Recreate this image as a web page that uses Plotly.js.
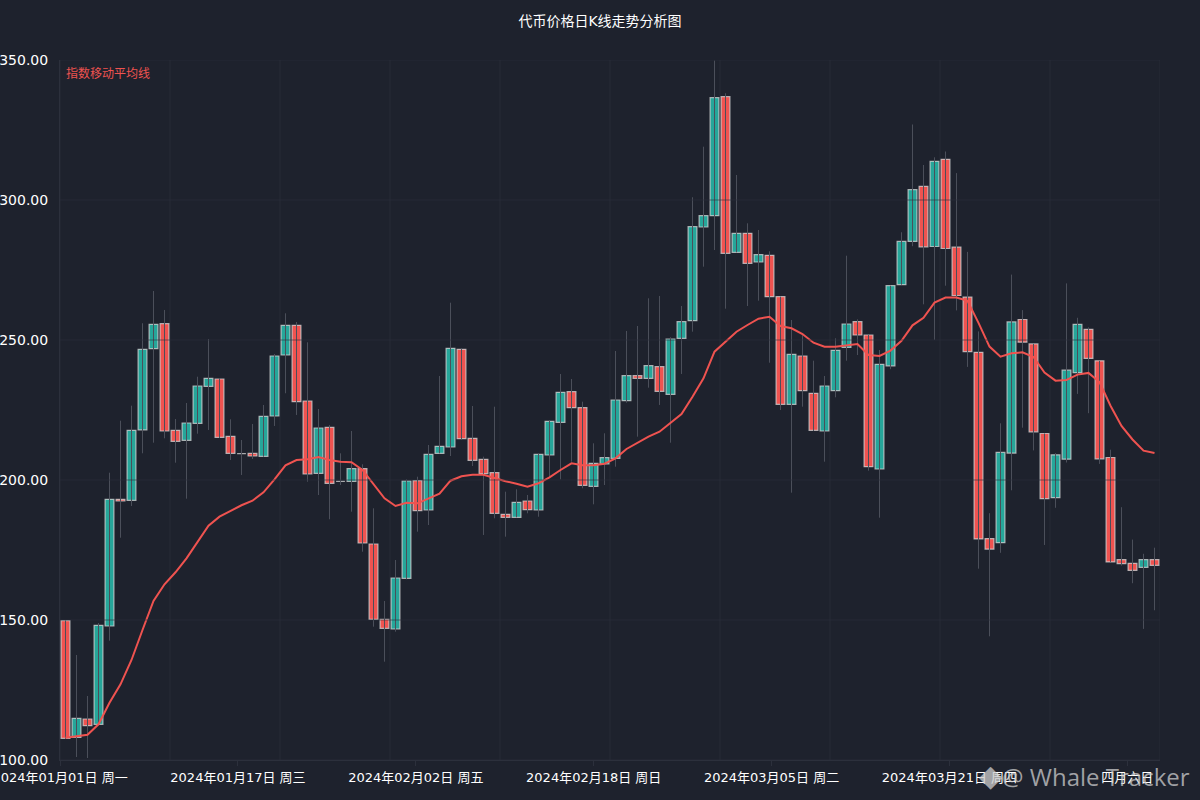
<!DOCTYPE html>
<html>
<head>
<meta charset="utf-8">
<script src="https://cdn.plot.ly/plotly-3.0.1.min.js"></script>
<style>
  html, body { margin: 0; padding: 0; background: #1e222d; }
  #chart { width: 1200px; height: 800px; }
</style>
</head>
<body>
<div id="chart"></div>
<script>
// chart text
const titleText = '代币价格日K线走势分析图';
const maName = '指数移动平均线';
const watermark = '<span style="font-size:30px">◆</span>@ Whale Tracker';
const xLabels = ['2024年01月01日 周一', '2024年01月17日 周三', '2024年02月02日 周五', '2024年02月18日 周日',
                 '2024年03月05日 周二', '2024年03月21日 周四', '四月六日'];

// daily candles
const open = [
  149.75, 108.11, 114.64, 112.75, 147.86, 193.11, 192.75, 217.90, 246.89, 255.82,
  217.75, 214.18, 220.25, 233.46, 236.07, 215.61, 209.39, 209.54, 208.46, 222.86,
  244.64, 255.25, 228.22, 202.39, 218.82, 199.54, 199.54, 204.04, 177.14, 150.25,
  146.79, 164.89, 199.75, 189.29, 209.54, 211.79, 246.68, 214.89, 207.39, 202.61,
  187.75, 186.68, 192.50, 189.29, 208.93, 220.61, 231.54, 225.82, 197.75, 205.72,
  207.75, 228.32, 237.25, 236.32, 240.46, 230.61, 250.61, 256.89, 290.36, 294.39,
  336.89, 281.32, 288.11, 277.86, 280.25, 265.47, 227.04, 244.29, 230.97, 217.50,
  231.89, 247.39, 256.54, 251.79, 203.93, 240.79, 269.75, 285.22, 304.89, 283.39,
  314.54, 283.14, 265.29, 245.61, 179.07, 177.61, 209.61, 257.32, 248.61, 216.61,
  193.68, 207.43, 238.36, 253.82, 242.57, 208.04, 171.57, 170.25, 168.82, 171.57
];
const high = [
  149.82, 137.50, 122.86, 148.93, 202.61, 221.18, 226.54, 255.97, 267.50, 260.72,
  221.79, 227.50, 236.89, 250.36, 236.43, 221.68, 214.29, 220.00, 226.79, 245.00,
  259.54, 256.43, 249.18, 225.36, 219.64, 209.54, 217.50, 205.61, 189.89, 156.79,
  171.43, 200.25, 201.18, 212.50, 237.14, 263.32, 247.14, 226.43, 208.32, 226.18,
  195.82, 196.68, 194.64, 209.54, 221.43, 237.86, 236.07, 227.97, 213.11, 216.68,
  246.07, 253.22, 255.00, 264.89, 265.72, 250.97, 262.14, 300.97, 319.04, 349.80,
  338.11, 308.93, 291.68, 289.29, 281.68, 265.47, 257.14, 251.79, 242.61, 237.14,
  250.61, 280.11, 257.39, 251.79, 246.43, 269.39, 288.47, 326.97, 312.50, 315.25,
  317.32, 309.61, 281.47, 253.07, 188.14, 220.25, 273.36, 260.68, 248.61, 216.61,
  209.61, 270.22, 257.93, 254.54, 242.57, 210.82, 190.29, 178.72, 173.64, 175.82
];
const low = [
  107.50, 101.07, 100.71, 112.50, 142.61, 179.39, 190.72, 209.54, 213.32, 214.89,
  206.18, 193.32, 216.54, 217.86, 215.00, 207.14, 201.79, 207.50, 208.32, 219.29,
  230.97, 223.22, 199.39, 194.64, 185.97, 198.21, 188.68, 174.39, 147.61, 135.11,
  145.82, 164.54, 181.54, 183.93, 209.54, 208.57, 214.29, 205.00, 180.36, 186.32,
  179.75, 186.68, 188.11, 186.89, 201.18, 200.25, 206.54, 197.04, 191.32, 198.21,
  204.75, 227.61, 215.47, 232.97, 226.79, 213.32, 237.86, 252.97, 276.18, 282.14,
  261.18, 281.32, 262.14, 264.04, 241.89, 225.00, 195.47, 226.18, 217.50, 206.54,
  229.54, 242.61, 244.64, 203.32, 186.54, 239.57, 269.75, 283.50, 262.75, 250.07,
  269.39, 260.57, 240.39, 168.32, 144.18, 174.00, 196.32, 218.68, 210.57, 176.79,
  190.07, 206.25, 230.75, 223.86, 205.75, 170.75, 169.43, 163.14, 146.82, 153.47
];
const close = [
  107.75, 114.89, 112.25, 148.11, 193.11, 192.50, 217.75, 246.68, 255.61, 217.50,
  213.82, 220.36, 233.57, 236.32, 215.25, 209.54, 209.39, 208.57, 222.75, 244.29,
  255.25, 227.97, 202.14, 218.57, 198.82, 199.54, 204.04, 177.50, 150.25, 147.04,
  165.00, 199.64, 189.04, 209.18, 212.04, 247.04, 214.75, 207.04, 202.25, 188.11,
  186.68, 192.04, 189.39, 209.18, 220.97, 231.32, 225.82, 198.11, 205.97, 207.97,
  228.57, 237.25, 236.32, 240.82, 231.68, 250.36, 256.54, 290.47, 294.39, 336.54,
  280.97, 288.11, 277.39, 280.47, 265.47, 227.04, 244.89, 231.89, 217.75, 233.57,
  246.32, 255.72, 251.79, 204.75, 241.32, 269.39, 285.22, 303.68, 283.29, 313.82,
  282.68, 265.89, 245.86, 178.97, 175.32, 209.86, 256.47, 249.22, 217.22, 193.32,
  209.00, 239.22, 255.61, 243.43, 207.57, 170.75, 170.14, 167.72, 171.57, 169.54
];
// moving average line
const ma = [
  107.96, 108.57, 109.04, 112.75, 120.47, 127.04, 135.72, 146.43, 156.79, 162.75,
  167.04, 172.04, 177.97, 183.68, 186.89, 189.04, 190.97, 192.61, 195.61, 200.25,
  205.25, 207.14, 207.39, 208.21, 207.14, 206.54, 206.32, 203.57, 198.47, 193.47,
  190.72, 191.89, 191.68, 193.47, 195.11, 199.75, 201.32, 201.89, 201.89, 200.72,
  199.54, 198.68, 197.61, 198.82, 200.97, 203.57, 205.97, 205.25, 205.25, 205.82,
  207.75, 211.07, 213.32, 215.47, 217.25, 220.25, 223.57, 229.75, 236.32, 245.82,
  249.39, 252.97, 255.36, 257.61, 258.32, 255.00, 254.18, 252.14, 249.04, 247.61,
  247.61, 248.22, 248.57, 244.64, 244.29, 246.22, 249.72, 255.25, 257.93, 263.36,
  265.14, 265.14, 263.97, 256.11, 247.64, 244.04, 245.25, 245.61, 243.93, 238.36,
  235.47, 235.72, 237.64, 238.25, 234.97, 226.54, 219.29, 214.47, 210.47, 209.61
];

const upColor = '#26a69a';
const downColor = '#ef5350';
const bg = '#1e222d';

const idx = close.map((c, i) => i);

// wicks: one segment per candle, broken by nulls
const wickX = [], wickY = [];
idx.forEach(i => {
  wickX.push(i, i, null);
  wickY.push(low[i], high[i], null);
});

// bodies as floating bars
const bodyBase = idx.map(i => Math.min(open[i], close[i]));
const bodyLen = idx.map(i => Math.abs(close[i] - open[i]));
const bodyColor = idx.map(i => close[i] >= open[i] ? upColor : downColor);

const traces = [
  {
    type: 'scatter', mode: 'lines',
    x: wickX, y: wickY,
    line: { color: '#4b4f5a', width: 1 },
    connectgaps: false, hoverinfo: 'skip'
  },
  {
    type: 'bar',
    x: idx, y: bodyLen, base: bodyBase,
    width: 0.8,
    marker: { color: bodyColor, line: { color: 'rgba(215,215,215,0.75)', width: 1.2 } }
  },
  {
    type: 'scatter', mode: 'lines',
    name: maName,
    x: idx, y: ma,
    line: { color: downColor, width: 2 }
  }
];

// tick labels sit every ~16.2 candles, grid every 10 candles
const tickvals = xLabels.map((t, i) => -0.49 + i * 16.17);
const shapes = [];
for (let i = 0; i <= 10; i++) {
  shapes.push({ type: 'line', layer: 'below', xref: 'x', yref: 'paper',
    x0: -0.5 + i * 10, x1: -0.5 + i * 10, y0: 0, y1: 1,
    line: { color: '#272b36', width: 1 } });
}
for (let i = 0; i <= 5; i++) {
  shapes.push({ type: 'line', layer: 'above', xref: 'paper', yref: 'y',
    x0: 0, x1: 1, y0: 100 + i * 50, y1: 100 + i * 50,
    line: { color: 'rgba(44,48,61,0.6)', width: 1 } });
}

const layout = {
  width: 1200, height: 800,
  paper_bgcolor: bg, plot_bgcolor: bg,
  margin: { l: 60, r: 40, t: 60, b: 40 },
  font: { family: 'DejaVu Sans, "Noto Sans CJK SC", sans-serif', color: '#ffffff', size: 13 },
  title: {
    text: titleText, x: 0.5, xref: 'container', y: 0.974, yref: 'container', yanchor: 'middle',
    font: { size: 14, color: '#ffffff' }
  },
  showlegend: false,
  xaxis: {
    range: [-0.5, 99.5],
    tickmode: 'array', tickvals: tickvals, ticktext: xLabels,
    ticklabeloverflow: 'allow',
    showgrid: false, zeroline: false,
    showline: true, linecolor: '#2c303c',
    ticks: 'outside', ticklen: 5, tickcolor: '#2c303c',
    tickfont: { size: 13, color: '#ffffff' }
  },
  yaxis: {
    range: [100, 350], tick0: 100, dtick: 50, tickformat: '.2f',
    showgrid: false, zeroline: false,
    showline: true, linecolor: '#2c303c',
    ticks: '', ticklabelstandoff: 8,
    tickfont: { size: 14, color: '#ffffff' }
  },
  shapes: shapes,
  annotations: [
    {
      text: maName, showarrow: false,
      xref: 'paper', x: 0, xanchor: 'left', xshift: 4,
      yref: 'paper', y: 1, yanchor: 'top', yshift: -4,
      font: { size: 12, color: downColor }
    },
    {
      text: watermark, showarrow: false,
      xref: 'paper', x: 1, xanchor: 'right', xshift: 32,
      yref: 'paper', y: 0, yanchor: 'middle', yshift: -14,
      font: { family: '"Open Sans", "DejaVu Sans", sans-serif', size: 24, color: 'rgba(205,205,205,0.75)' }
    }
  ]
};

Plotly.newPlot('chart', traces, layout, { displayModeBar: false, responsive: false });
</script>
</body>
</html>
